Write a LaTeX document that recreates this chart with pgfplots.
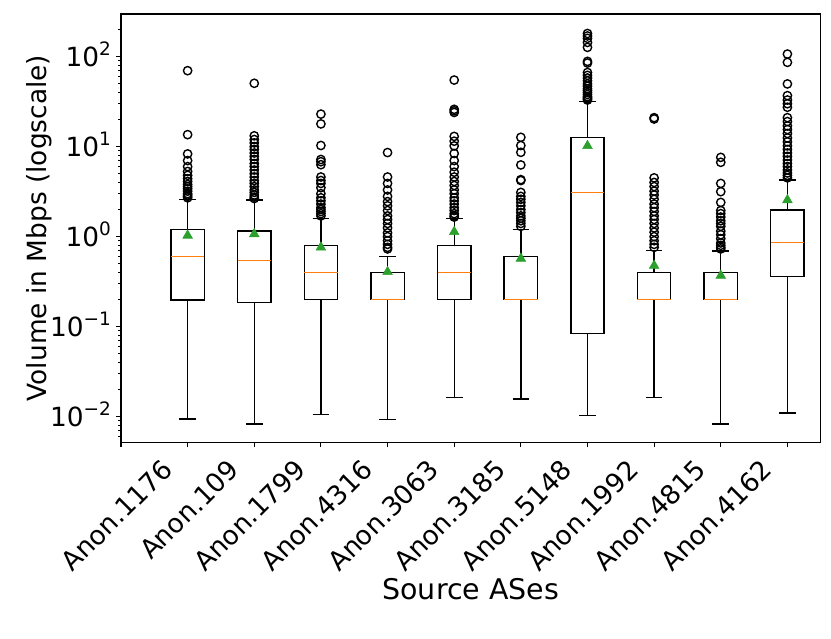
\documentclass[border=0pt]{standalone}
\usepackage{fontspec}
\setmainfont{DejaVu Sans}
\usepackage{pgfplots}
\pgfplotsset{compat=1.18}
\usepgfplotslibrary{statistics}
\definecolor{mplorange}{HTML}{FF7F0E}
\definecolor{mplgreen}{HTML}{2CA02C}
\newcommand{\sci}[1]{10\raisebox{7.6pt}{\fontsize{13.3}{15}\selectfont #1}}
\pgfplotsset{mybox/.style={draw=black, line width=1pt, mark=o, mark size=3pt,
  mark options={draw=black, fill=none, line width=1pt, solid}}}
\begin{document}
\begin{tikzpicture}
\begin{axis}[
  name=ax,
  scale only axis, width=503.8pt, height=308.2pt,
  xmin=0, xmax=10.5, ymode=log, ymin=0.0052, ymax=298,
  axis line style={line width=0.8pt},
  tick align=outside, tick pos=left,
  major tick length=3.5pt, minor tick length=2pt,
  every major tick/.append style={line width=0.8pt, black},
  every minor tick/.append style={line width=0.6pt, black},
  xtick={0,1,2,3,4,5,6,7,8,9,10},
  xticklabels={,Anon.1176,Anon.109,Anon.1799,Anon.4316,Anon.3063,Anon.3185,Anon.5148,Anon.1992,Anon.4815,Anon.4162},
  ytick={0.01,0.1,1,10,100},
  yticklabels={\sci{−2},\sci{−1},\sci{0},\sci{1},\sci{2}},
  minor ytick={0.006,0.007,0.008,0.009,0.02,0.03,0.04,0.05,0.06,0.07,0.08,0.09,0.2,0.3,0.4,0.5,0.6,0.7,0.8,0.9,2,3,4,5,6,7,8,9,20,30,40,50,60,70,80,90,200},
  tick label style={font=\fontsize{19}{23}\selectfont},
  xticklabel style={xshift=-19.8pt, yshift=-7.4pt, rotate=45, anchor=north east, inner sep=0pt},
  yticklabel style={xshift=-3.6pt, yshift=-6.9pt, anchor=base east, inner sep=0pt},
  xlabel={Source ASes}, ylabel={Volume in Mbps (logscale)},
  every axis x label/.style={at={(axis description cs:0.5,-0.368)}, anchor=base, font=\fontsize{20.5}{24}\selectfont},
  every axis y label/.style={at={(axis description cs:-0.1062,0.5)}, rotate=90, anchor=base, font=\fontsize{19}{23}\selectfont},
  boxplot/draw direction=y,
  boxplot/box extend=0.5, boxplot/whisker extend=0.25,
  boxplot/every box/.style={draw=black, line width=1pt},
  boxplot/every whisker/.style={draw=black, line width=1pt},
  boxplot/every median/.style={draw=mplorange, line width=1pt},
]
\addplot[mybox, boxplot prepared={draw direction=y, draw position=1, lower whisker=0.0094, lower quartile=0.198, median=0.6, upper quartile=1.2, upper whisker=2.6}]
  table[row sep=\\, y index=0] {v\\ 69.9\\ 13.6\\ 8.3\\ 7.0\\ 6.0\\ 5.3\\ 4.8\\ 4.4\\ 4.1\\ 3.8\\ 3.6\\ 3.4\\ 3.2\\ 3.0\\ 2.9\\ 2.8\\ 2.7\\};
\addplot[mybox, boxplot prepared={draw direction=y, draw position=2, lower whisker=0.0083, lower quartile=0.186, median=0.545, upper quartile=1.15, upper whisker=2.55}]
  table[row sep=\\, y index=0] {v\\ 50.6\\ 13.2\\ 12\\ 11\\ 10\\ 9.3\\ 8.5\\ 7.8\\ 7.2\\ 6.5\\ 6\\ 5.5\\ 5\\ 4.6\\ 4.2\\ 3.9\\ 3.6\\ 3.3\\ 3.1\\ 2.9\\ 2.75\\ 2.65\\};
\addplot[mybox, boxplot prepared={draw direction=y, draw position=3, lower whisker=0.0105, lower quartile=0.2, median=0.4, upper quartile=0.8, upper whisker=1.585}]
  table[row sep=\\, y index=0] {v\\ 23\\ 17.9\\ 10.3\\ 7.2\\ 6.8\\ 6.3\\ 4.6\\ 4.2\\ 3.9\\ 3.5\\ 3.0\\ 2.7\\ 2.5\\ 2.3\\ 2.1\\ 2.0\\ 1.9\\ 1.8\\ 1.7\\};
\addplot[mybox, boxplot prepared={draw direction=y, draw position=4, lower whisker=0.0093, lower quartile=0.2, median=0.2, upper quartile=0.4, upper whisker=0.6}]
  table[row sep=\\, y index=0] {v\\ 8.6\\ 4.6\\ 3.9\\ 3.3\\ 2.8\\ 2.45\\ 2.2\\ 1.95\\ 1.7\\ 1.55\\ 1.4\\ 1.25\\ 1.1\\ 1.0\\ 0.9\\ 0.82\\ 0.76\\ 0.73\\};
\addplot[mybox, boxplot prepared={draw direction=y, draw position=5, lower whisker=0.0164, lower quartile=0.2, median=0.4, upper quartile=0.8, upper whisker=1.585}]
  table[row sep=\\, y index=0] {v\\ 55\\ 26\\ 25\\ 24\\ 13\\ 11.5\\ 10.2\\ 8.4\\ 7\\ 6\\ 5.2\\ 4.6\\ 4.1\\ 3.7\\ 3.3\\ 3.0\\ 2.7\\ 2.5\\ 2.3\\ 2.1\\ 1.95\\ 1.8\\ 1.7\\ 1.65\\};
\addplot[mybox, boxplot prepared={draw direction=y, draw position=6, lower whisker=0.0156, lower quartile=0.2, median=0.2, upper quartile=0.6, upper whisker=1.2}]
  table[row sep=\\, y index=0] {v\\ 12.7\\ 10.3\\ 8.65\\ 6.26\\ 4.3\\ 4.2\\ 3.1\\ 2.8\\ 2.6\\ 2.4\\ 2.2\\ 2.0\\ 1.85\\ 1.7\\ 1.6\\ 1.5\\ 1.4\\ 1.3\\};
\addplot[mybox, boxplot prepared={draw direction=y, draw position=7, lower whisker=0.0102, lower quartile=0.0843, median=3.11, upper quartile=12.7, upper whisker=31.9}]
  table[row sep=\\, y index=0] {v\\ 181\\ 170\\ 160\\ 144\\ 127\\ 88.7\\ 85\\ 66.7\\ 62\\ 58\\ 54\\ 50\\ 47\\ 44\\ 42\\ 40\\ 38\\ 36\\ 35\\ 34\\ 33\\};
\addplot[mybox, boxplot prepared={draw direction=y, draw position=8, lower whisker=0.0164, lower quartile=0.2, median=0.2, upper quartile=0.4, upper whisker=0.7}]
  table[row sep=\\, y index=0] {v\\ 21\\ 20.3\\ 4.5\\ 4.0\\ 3.6\\ 3.2\\ 2.9\\ 2.6\\ 2.3\\ 2.1\\ 1.9\\ 1.7\\ 1.55\\ 1.4\\ 1.25\\ 1.12\\ 1.0\\ 0.9\\ 0.82\\ 0.76\\};
\addplot[mybox, boxplot prepared={draw direction=y, draw position=9, lower whisker=0.0083, lower quartile=0.2, median=0.2, upper quartile=0.4, upper whisker=0.69}]
  table[row sep=\\, y index=0] {v\\ 7.6\\ 6.7\\ 3.9\\ 3.16\\ 2.4\\ 1.95\\ 1.8\\ 1.65\\ 1.5\\ 1.4\\ 1.3\\ 1.15\\ 1.05\\ 0.95\\ 0.85\\ 0.8\\ 0.76\\ 0.73\\};
\addplot[mybox, boxplot prepared={draw direction=y, draw position=10, lower whisker=0.0109, lower quartile=0.36, median=0.865, upper quartile=1.98, upper whisker=4.27}]
  table[row sep=\\, y index=0] {v\\ 107\\ 86.5\\ 49.8\\ 36.9\\ 33\\ 30\\ 27.4\\ 21\\ 19\\ 17\\ 15.5\\ 14\\ 12.5\\ 11.3\\ 10.2\\ 9.3\\ 8.5\\ 7.8\\ 7.1\\ 6.5\\ 6\\ 5.5\\ 5.1\\ 4.8\\ 4.5\\};
\addplot[only marks, mark=triangle*, mark size=4pt, draw=mplgreen, fill=mplgreen]
  coordinates {(1,1.03) (2,1.07) (3,0.76) (4,0.405) (5,1.13) (6,0.57) (7,10.2) (8,0.476) (9,0.369) (10,2.55)};
\end{axis}
\pgfresetboundingbox
\path[use as bounding box] ([xshift=-87.1pt,yshift=-141.2pt]ax.south west) rectangle ([xshift=7.4pt,yshift=10.1pt]ax.north east);
\end{tikzpicture}
\end{document}
